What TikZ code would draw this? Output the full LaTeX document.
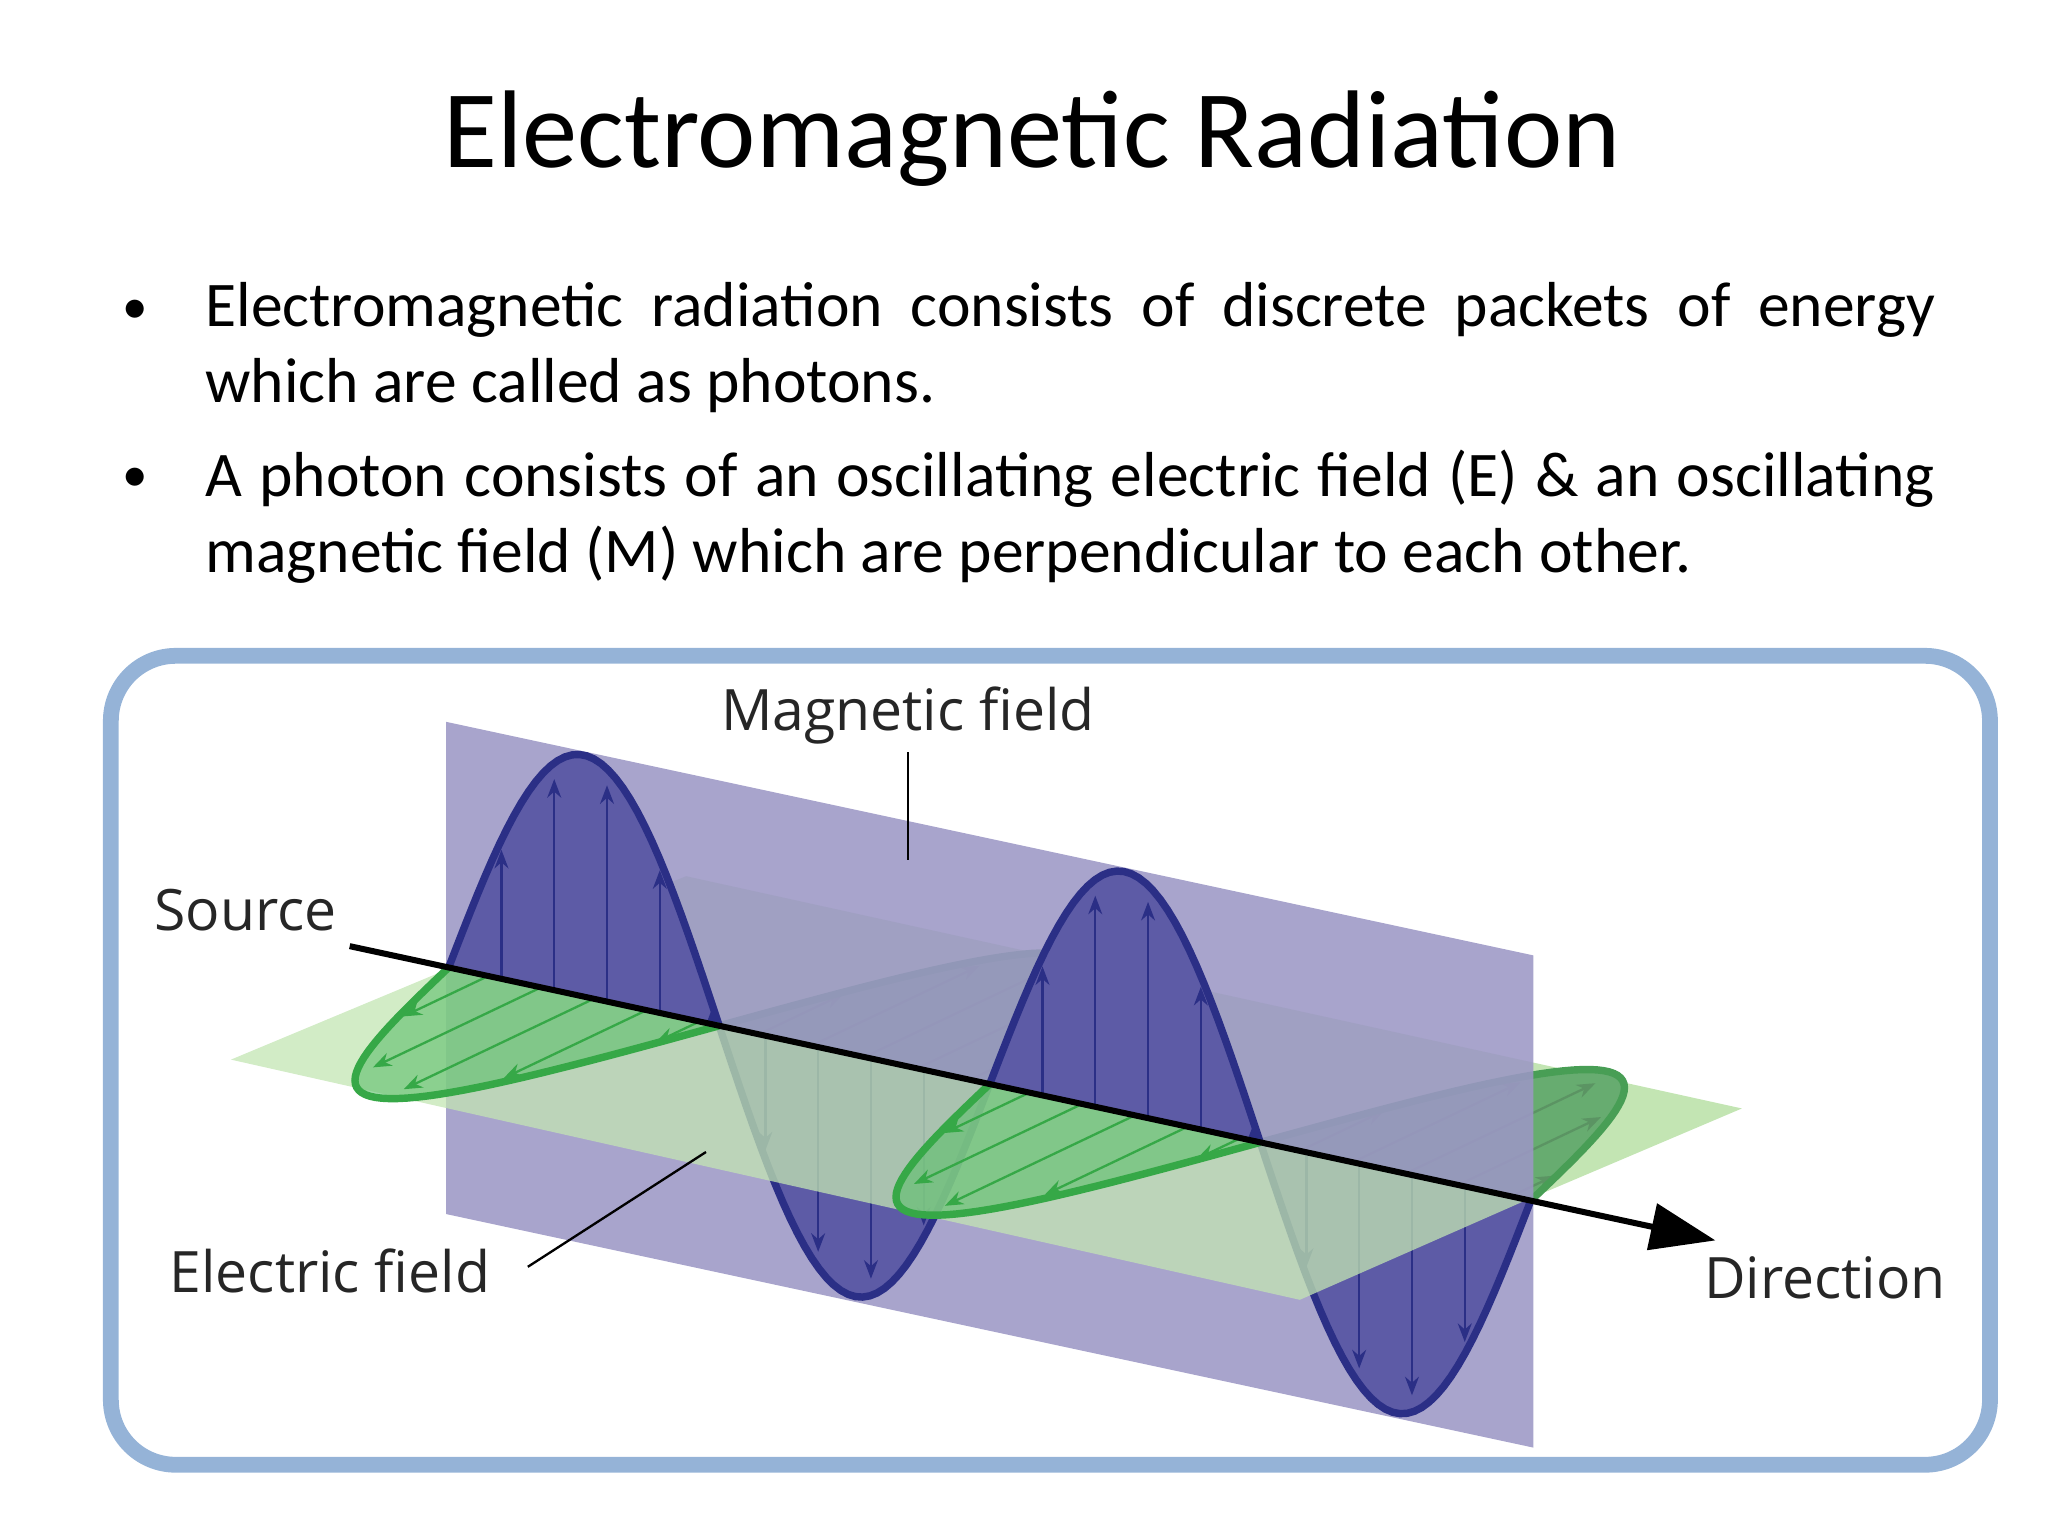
\documentclass[tikz,border=0pt]{standalone}
\usepackage{fontspec}
\setmainfont{Carlito}
\newfontfamily\labelfont{Open Sans}
\usetikzlibrary{arrows.meta, positioning, calc}
\definecolor{frameblue}{HTML}{95B3D7}
\definecolor{mplane}{HTML}{9C97C5}
\definecolor{mwave}{HTML}{5D5BA6}
\definecolor{mline}{HTML}{2B2F86}
\definecolor{eplane}{HTML}{C3E5B3}
\definecolor{ewave}{HTML}{5CBF6A}
\definecolor{eline}{HTML}{36A847}
\tikzstyle{bullettext} = [anchor=north west, text width=13.1cm, align=justify, font=\fontsize{13.7}{16.5}\selectfont, inner sep=0pt]
\tikzstyle{fieldlabel} = [font=\labelfont\fontsize{12.3}{14}\selectfont, text=black!85, inner sep=0pt]
\tikzstyle{marrow} = [mline, line width=0.5pt, -{Stealth[length=4pt]}]
\tikzstyle{earrow} = [eline, line width=0.5pt, -{Stealth[length=4pt]}]
\tikzstyle{farline} = [eline!75!gray, line width=1.6pt]

\begin{document}
\begin{tikzpicture}[x=0.01cm, y=-0.01cm]
		\useasboundingbox (0,0) rectangle (1552,1164);
		
		\node (title) at (782,105) {\fontsize{23.8}{27}\selectfont Electromagnetic Radiation};
		
		\node [bullettext] (b1) at (155,213) {Electromagnetic radiation consists of discrete packets of energy which are called as photons.};
		\node [bullettext] (b2) at (155,340) {A photon consists of an oscillating electric field (E) \& an oscillating magnetic field (M) which are perpendicular to each other.};
		\node [left=0.42cm of b1.north west, anchor=north east, inner sep=0pt, yshift=-4pt] (dot1) {\fontsize{11}{16.5}\selectfont\textbullet};
		\node [left=0.42cm of b2.north west, anchor=north east, inner sep=0pt, yshift=-4pt] (dot2) {\fontsize{11}{16.5}\selectfont\textbullet};
		
		% frame
		\draw [frameblue, line width=3.4pt, rounded corners=14pt] (84,497) rectangle (1508,1110);
		
		% far half of the electric plane, far lobes of the wave
		\fill [eplane] (338,735) -- (520,664) -- (1320,840) -- (1160,908) -- cycle;
		\foreach \s in {205,615} {
			\fill [ewave!70!gray] plot[domain=\s:\s+205, samples=50] ({340+\x-160*sin(0.878049*\x)},{717+0.2155*(75+\x)+76*sin(0.878049*\x)}) -- cycle;
			\foreach \t in {235,275,...,395} {
				\draw [earrow, eline!50!gray] ({340+\t+\s-205},{717+0.2155*(75+\t+\s-205)}) -- ({340+\t+\s-205-145*sin(0.878049*(\t+\s-205))},{717+0.2155*(75+\t+\s-205)+69*sin(0.878049*(\t+\s-205))});
			}
			\draw [farline] plot[domain=\s:\s+205, samples=50] ({340+\x-160*sin(0.878049*\x)},{717+0.2155*(75+\x)+76*sin(0.878049*\x)});
		}
		
		% magnetic plane and wave
		\fill [mplane, opacity=0.88] (338,547) -- (1162,724) -- (1162,1097) -- (338,920) -- cycle;
		\fill [mwave] plot[domain=0:820, samples=150] ({340+\x},{717+0.2155*(75+\x)-183*sin(0.878049*\x)}) -- cycle;
		\foreach \t in {40,80,...,380,450,490,...,780} {
			\draw [marrow] ({340+\t},{717+0.2155*(75+\t)}) -- ({340+\t},{717+0.2155*(75+\t)-170*sin(0.878049*\t)});
		}
		\draw [mline, line width=1.6pt] plot[domain=0:820, samples=150] ({340+\x},{717+0.2155*(75+\x)-183*sin(0.878049*\x)});
		
		% near half of the electric plane, near lobes of the wave
		\fill [eplane, opacity=0.75] (175,803) -- (338,735) -- (1160,908) -- (985,985) -- cycle;
		\foreach \s in {0,410} {
			\fill [ewave, opacity=0.6] plot[domain=\s:\s+205, samples=50] ({340+\x-160*sin(0.878049*\x)},{717+0.2155*(75+\x)+76*sin(0.878049*\x)}) -- cycle;
			\foreach \t in {30,70,...,190} {
				\draw [earrow] ({340+\t+\s},{717+0.2155*(75+\t+\s)}) -- ({340+\t+\s-145*sin(0.878049*(\t+\s))},{717+0.2155*(75+\t+\s)+69*sin(0.878049*(\t+\s))});
			}
			\draw [eline, line width=1.6pt] plot[domain=\s:\s+205, samples=50] ({340+\x-160*sin(0.878049*\x)},{717+0.2155*(75+\x)+76*sin(0.878049*\x)});
		}
		
		% axis
		\coordinate (src) at (265,717);
		\coordinate (tip) at (1300,940);
		\draw [line width=1.3pt, -{Triangle[length=14pt, width=10pt]}] (src) -- (tip);
		
		% labels
		\node [fieldlabel] (mlabel) at (688,542) {Magnetic field};
		\coordinate (mpoint) at (688,652);
		\draw [line width=0.5pt] (688,570) -- (mpoint);
		\node [fieldlabel] (slabel) at (186,690) {Source};
		\node [fieldlabel] (elabel) at (250,963) {Electric field};
		\coordinate (estart) at (400,960);
		\coordinate (epoint) at (535,873);
		\draw [line width=0.5pt] (estart) -- (epoint);
		\node [fieldlabel] (dlabel) at (1383,968) {Direction};
	\end{tikzpicture}
\end{document}
